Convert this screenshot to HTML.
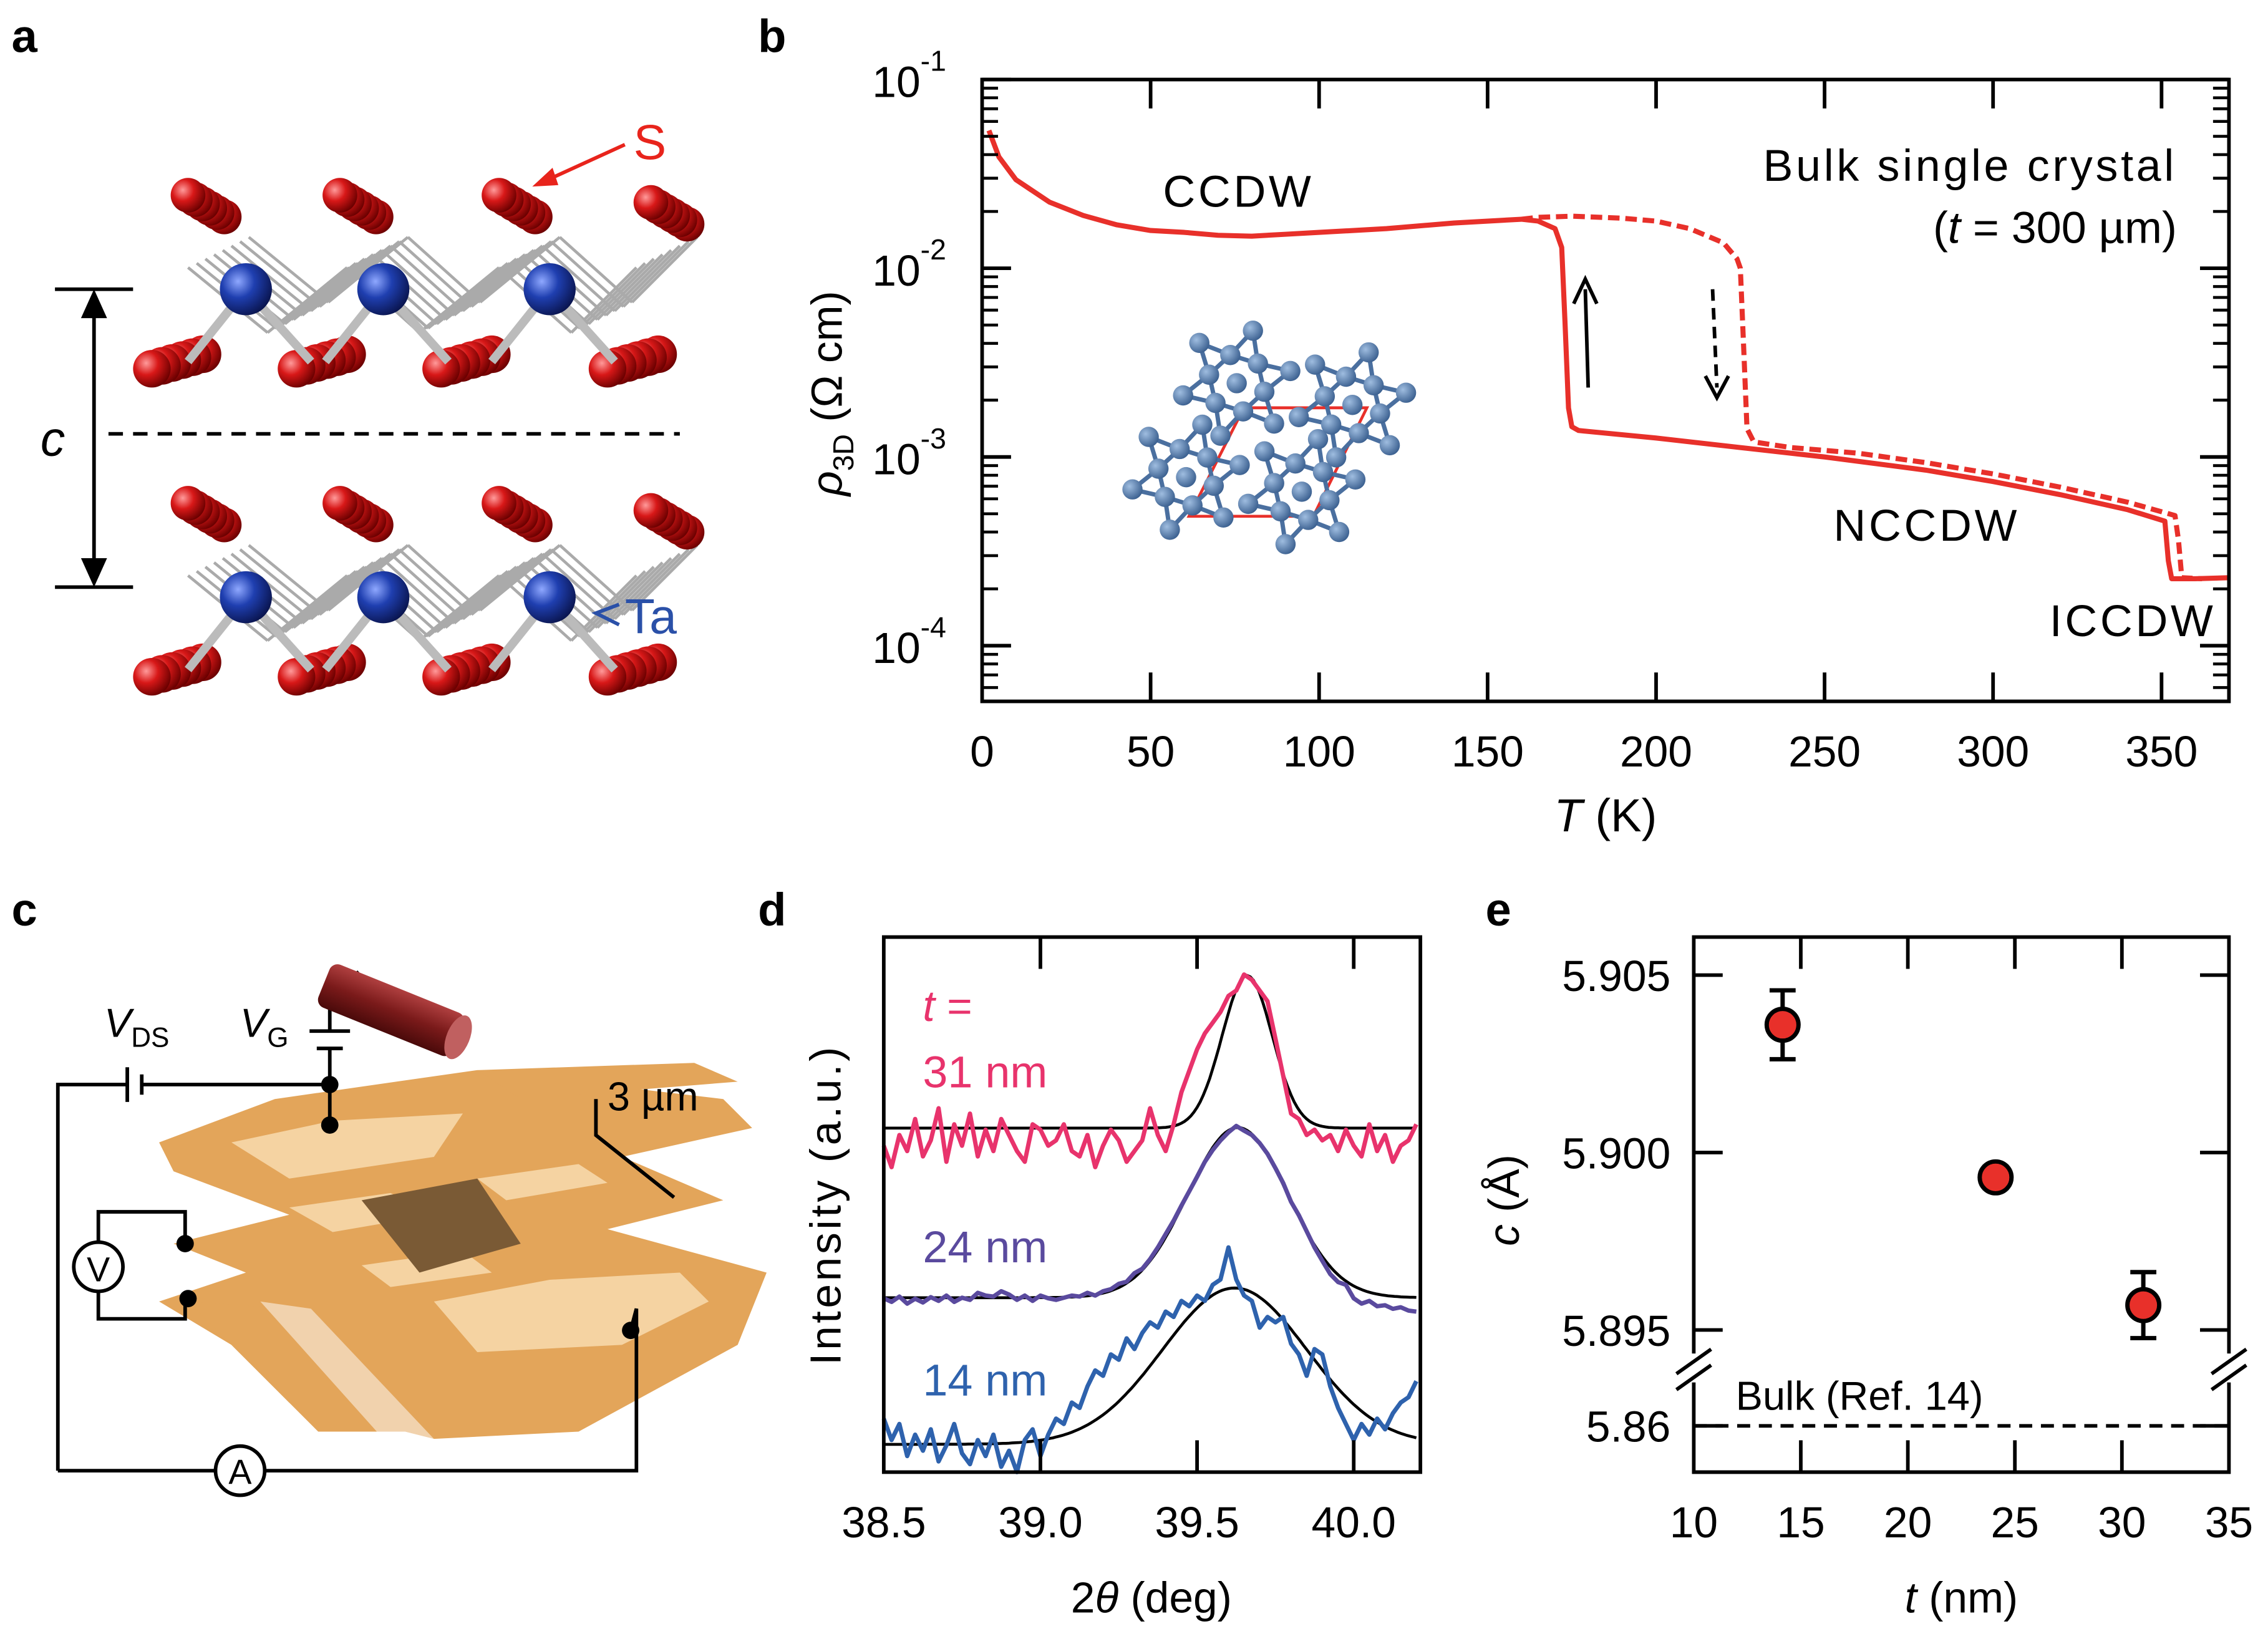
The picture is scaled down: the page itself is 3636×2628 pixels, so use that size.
<!DOCTYPE html>
<html><head><meta charset="utf-8"><style>
html,body{margin:0;padding:0;background:#fff;}
svg{display:block;}
text{font-family:"Liberation Sans",sans-serif;}
</style></head><body>
<svg id="fig" width="3636" height="2628" viewBox="0 0 1568 1133.4" preserveAspectRatio="none" xmlns="http://www.w3.org/2000/svg">
<defs>
<radialGradient id="gS" cx="0.35" cy="0.35" r="0.7"><stop offset="0" stop-color="#ff9a9a"/><stop offset="0.45" stop-color="#d81818"/><stop offset="1" stop-color="#6a0000"/></radialGradient>
<radialGradient id="gT" cx="0.35" cy="0.35" r="0.7"><stop offset="0" stop-color="#8fa8ff"/><stop offset="0.45" stop-color="#1f3fb0"/><stop offset="1" stop-color="#0a1550"/></radialGradient>
<radialGradient id="gB" cx="0.35" cy="0.35" r="0.7"><stop offset="0" stop-color="#9fbde0"/><stop offset="1" stop-color="#3a5f8f"/></radialGradient>
<linearGradient id="gCab" x1="0" y1="0" x2="0" y2="1"><stop offset="0" stop-color="#b04040"/><stop offset="0.5" stop-color="#7a1a1a"/><stop offset="1" stop-color="#4a0a0a"/></linearGradient>
</defs>

<g font-weight="bold" font-size="32">
<text x="8" y="36">a</text>
<text x="524" y="36">b</text>
<text x="8" y="640">c</text>
<text x="524" y="640">d</text>
<text x="1027" y="640">e</text>
</g>

<g id="panelA"></g>
<g>
<line x1="38" y1="200" x2="92" y2="200" stroke="#000" stroke-width="2.5"/>
<line x1="38" y1="406" x2="92" y2="406" stroke="#000" stroke-width="2.5"/>
<line x1="65" y1="215" x2="65" y2="391" stroke="#000" stroke-width="2.5"/>
<polygon points="65,200 56,220 74,220" fill="#000"/>
<polygon points="65,406 56,386 74,386" fill="#000"/>
<line x1="75" y1="300" x2="470" y2="300" stroke="#000" stroke-width="2.5" stroke-dasharray="10,7"/>
<text x="28" y="315" font-size="34" font-style="italic">c</text>
<text x="438" y="110" font-size="34" fill="#e8241c">S</text>
<line x1="432" y1="100" x2="375" y2="126" stroke="#e8241c" stroke-width="2.5"/>
<polygon points="368,129 382,116 386,128" fill="#e8241c"/>
<text x="432" y="438" font-size="34" fill="#2a50a8">Ta</text>
<polyline points="428,418 412,424 428,432" fill="none" stroke="#2a50a8" stroke-width="2.5"/>
</g>

<g id="panelB"></g>

<g>
<polygon points="110,790 190,760 330,740 500,760 520,780 430,800 500,830 420,850 530,880 510,930 400,990 300,995 200,970 160,930 110,900 170,880 120,860 200,840 120,810" fill="#e3a55a"/>
<polygon points="330,740 480,735 510,748 360,760" fill="#e3a55a"/>
<polygon points="160,790 230,775 320,770 300,800 200,815" fill="#f5d3a2"/>
<polygon points="200,835 270,825 300,840 230,852" fill="#f5d3a2"/>
<polygon points="330,815 400,805 420,818 350,830" fill="#f5d3a2"/>
<polygon points="250,875 320,865 340,880 270,890" fill="#f5d3a2"/>
<polygon points="300,900 380,885 470,880 490,900 430,930 330,935" fill="#f5d3a2"/>
<polygon points="250,830 330,815 360,860 290,880" fill="#7a5a35"/>
<polygon points="130,900 200,905 290,990 220,990" fill="#e3a55a"/>
<polygon points="180,900 215,905 300,995 265,995" fill="#fff" opacity="0.5"/>
<path d="M40,1017 L40,750 L88,750 M98,750 L228,750 L228,725 M228,713 L228,690 L248,672 M40,1017 L150,1017 M183,1017 L440,1017 L440,905 L436,920" fill="none" stroke="#000" stroke-width="2.5"/>
<line x1="88" y1="738" x2="88" y2="762" stroke="#000" stroke-width="2.5"/>
<line x1="98" y1="743" x2="98" y2="757" stroke="#000" stroke-width="2.5"/>
<line x1="214" y1="713" x2="242" y2="713" stroke="#000" stroke-width="2.5"/>
<line x1="219" y1="725" x2="237" y2="725" stroke="#000" stroke-width="2.5"/>
<line x1="228" y1="750" x2="228" y2="778" stroke="#000" stroke-width="2.5"/>
<path d="M68,860 L68,838 L128,838 L128,860 M68,892 L68,912 L128,912 L128,898" fill="none" stroke="#000" stroke-width="2.5"/>
<circle cx="68" cy="876" r="17" fill="#fff" stroke="#000" stroke-width="2.5"/>
<text x="68" y="886" font-size="24" text-anchor="middle">V</text>
<circle cx="166" cy="1017" r="17" fill="#fff" stroke="#000" stroke-width="2.5"/>
<text x="166" y="1026" font-size="24" text-anchor="middle">A</text>
<g fill="#000"><circle cx="228" cy="750" r="6"/><circle cx="228" cy="778" r="6"/><circle cx="128" cy="860" r="6"/><circle cx="130" cy="898" r="6"/><circle cx="436" cy="920" r="6"/></g>
<g transform="translate(230,665) rotate(22)">
<rect x="0" y="0" width="100" height="32" rx="6" fill="url(#gCab)"/>
<ellipse cx="100" cy="16" rx="8" ry="16" fill="#c06060"/>
</g>
<text x="72" y="717" font-size="28" font-style="italic">V<tspan font-size="19" font-style="normal" dy="7">DS</tspan></text>
<text x="166" y="717" font-size="28" font-style="italic">V<tspan font-size="19" font-style="normal" dy="7">G</tspan></text>
<text x="420" y="768" font-size="28">3 µm</text>
<polyline points="412,760 412,785 466,828" fill="none" stroke="#000" stroke-width="2.5"/>
</g>

<g id="panelD"></g>
<g id="panelE"></g>
</svg>
<script>
// ---------- Panel b data ----------
const solidT = [2,5,10,20,30,40,50,60,70,80,90,100,120,140,160,165,170,172,173,174,175,177,180,200,230,250,280,300,320,340,351,352,353,360,370];
const solidLogRho = [-1.27,-1.41,-1.53,-1.65,-1.72,-1.77,-1.80,-1.81,-1.825,-1.83,-1.82,-1.81,-1.79,-1.76,-1.74,-1.75,-1.79,-1.89,-2.29,-2.74,-2.84,-2.86,-2.865,-2.90,-2.96,-3.00,-3.07,-3.13,-3.20,-3.28,-3.34,-3.55,-3.645,-3.645,-3.64];
const dashedT = [160,165,175,190,200,210,220,224,225,226,227,229,240,260,280,300,320,340,354,355,356,362];
const dashedLogRho = [-1.74,-1.73,-1.724,-1.735,-1.75,-1.79,-1.865,-1.95,-2.0,-2.42,-2.85,-2.92,-2.95,-2.98,-3.03,-3.09,-3.16,-3.24,-3.31,-3.44,-3.64,-3.645];
const bXTicks = [0,50,100,150,200,250,300,350];
const bYDecades = [-1,-2,-3,-4];

// ---------- Panel d data ----------
const twoTheta0 = 38.5, twoThetaStep = 0.025;
const pink31 = [6.1,5.7,6.3,6.0,6.6,5.9,6.2,6.8,5.8,6.5,6.1,6.7,5.9,6.4,6.0,6.6,6.3,6.0,5.8,6.5,6.4,6.1,6.2,6.5,6.0,5.9,6.3,5.7,6.1,6.4,6.2,5.8,6.0,6.2,6.8,6.3,6.0,6.5,7.1,7.5,7.9,8.2,8.4,8.6,8.9,9.0,9.3,9.2,9.0,8.8,8.1,7.4,6.7,6.6,6.3,6.4,6.2,6.3,6.0,6.4,6.1,5.9,6.5,6.0,6.3,5.8,6.1,6.2,6.5];
const purple24 = [3.25,3.18,3.28,3.15,3.24,3.17,3.27,3.2,3.3,3.18,3.26,3.22,3.35,3.3,3.28,3.38,3.32,3.22,3.3,3.2,3.3,3.25,3.22,3.26,3.3,3.28,3.35,3.3,3.38,3.42,3.52,3.56,3.72,3.8,3.98,4.2,4.45,4.7,4.98,5.25,5.52,5.8,6.02,6.2,6.35,6.47,6.38,6.3,6.15,5.95,5.68,5.4,5.05,4.8,4.5,4.2,3.95,3.7,3.55,3.5,3.25,3.15,3.2,3.1,3.12,3.05,3.08,3.02,3.0];
const blue14 = [1.0,0.6,0.9,0.3,0.7,0.4,0.8,0.2,0.5,0.9,0.35,0.15,0.6,0.3,0.7,0.1,0.4,0.0,0.6,0.8,0.3,0.7,1.0,0.9,1.3,1.2,1.6,1.9,1.8,2.2,2.1,2.5,2.3,2.6,2.8,2.7,3.0,2.9,3.2,3.1,3.3,3.2,3.5,3.6,4.2,3.6,3.3,3.2,2.7,2.9,2.8,2.9,2.4,2.2,1.8,2.3,2.2,1.6,1.2,0.9,0.6,0.9,0.7,1.0,0.8,1.1,1.3,1.4,1.7];
const fitBase = [6.43,3.26,0.52];
const fitAmp = [2.85,3.18,2.92];
const fitCenter = [39.66,39.63,39.62];
const fitSigma = [0.08,0.16,0.23];
const dXTicks = [38.5,39.0,39.5,40.0];
const dXLabels = ["38.5","39.0","39.5","40.0"];

// ---------- Panel e data ----------
const thickness = [14.15,24.1,31.0];
const cValues = [5.9036,5.8993,5.8957];
const cErrors = [0.00097,0.0003,0.00093];
const bulkC = 5.86;
const eXTicks = [10,15,20,25,30,35];
const eYTicks = [5.905,5.900,5.895];
const eYLabels = ["5.905","5.900","5.895"];

const NS = "http://www.w3.org/2000/svg";
function mk(parent, tag, attrs){const e=document.createElementNS(NS,tag);for(const k in attrs)e.setAttribute(k,attrs[k]);parent.appendChild(e);return e;}
function txt(parent, x, y, s, size, anchor){const e=mk(parent,'text',{x:x,y:y,'font-size':size,'text-anchor':anchor||'middle'});e.textContent=s;return e;}
function tsp(parent, s, attrs){const t=mk(parent,'tspan',attrs||{});t.textContent=s;return t;}

// ===== Panel a =====
(function(){
  const g=document.getElementById('panelA');
  function layer(y0){
    for(let k=0;k<8;k++){
      const dx=k*6, dy=-k*3;
      [[130,y0-45,185,y0],[185,y0,240,y0-45],[240,y0-45,290,y0],[290,y0,345,y0-45],[345,y0-45,395,y0],[395,y0,440,y0-45]].forEach(s=>{
        mk(g,'line',{x1:s[0]+dx,y1:s[1]+dy+45,x2:s[2]+dx,y2:s[3]+dy+45,stroke:'#aaa','stroke-width':2});
      });
    }
    const sTop=[[130,y0-50],[235,y0-50],[345,y0-50],[450,y0-45]];
    const sBot=[[105,y0+70],[205,y0+70],[305,y0+70],[420,y0+70]];
    const ta=[[170,y0+15],[265,y0+15],[380,y0+15]];
    for(let k=5;k>=0;k--){
      sTop.forEach(p=>{mk(g,'circle',{cx:p[0]+k*5,cy:p[1]+k*3,r:12,fill:'url(#gS)'});});
      sBot.forEach(p=>{mk(g,'circle',{cx:p[0]+k*7,cy:p[1]-k*2,r:13,fill:'url(#gS)'});});
    }
    ta.forEach(p=>{
      mk(g,'line',{x1:p[0],y1:p[1],x2:p[0]-40,y2:p[1]+50,stroke:'#bbb','stroke-width':6});
      mk(g,'line',{x1:p[0],y1:p[1],x2:p[0]+45,y2:p[1]+50,stroke:'#bbb','stroke-width':6});
      mk(g,'circle',{cx:p[0],cy:p[1],r:18,fill:'url(#gT)'});
    });
  }
  layer(185);
  layer(398);
})();

// ===== Panel b =====
(function(){
  const g=document.getElementById('panelB');
  const L=679,R=1541,T=55,B=485;
  const xB=t=>L+t*(R-L)/370;
  const yB=v=>T+(-1-v)*130.5;
  function poly(xs,ys,dash,name){
    let d='';for(let i=0;i<xs.length;i++){d+=(i?'L':'M')+xB(xs[i]).toFixed(1)+','+yB(ys[i]).toFixed(1);}
    const p=mk(g,'path',{d:d,fill:'none',stroke:'#e8302a','stroke-width':3.5,'stroke-linejoin':'round'});
    if(dash)p.setAttribute('stroke-dasharray','8,4');
    
    
  }
  poly(dashedT,dashedLogRho,true,'warming-curve-dashed');
  poly(solidT,solidLogRho,false,'cooling-curve-solid');
  const box=mk(g,'rect',{x:L,y:T,width:R-L,height:B-T,fill:'none',stroke:'#000','stroke-width':2.5});
  
  
  bXTicks.forEach(t=>{
    const x=xB(t);
    if(t>0){mk(g,'line',{x1:x,y1:T,x2:x,y2:T+20,stroke:'#000','stroke-width':2.5});
    mk(g,'line',{x1:x,y1:B,x2:x,y2:B-20,stroke:'#000','stroke-width':2.5});}
    const e=txt(g,x,530,String(t),30);
    
    
  });
  bYDecades.forEach(dc=>{
    const y=yB(dc);
    mk(g,'line',{x1:L,y1:y,x2:L+20,y2:y,stroke:'#000','stroke-width':2.5});
    mk(g,'line',{x1:R,y1:y,x2:R-20,y2:y,stroke:'#000','stroke-width':2.5});
    const e=mk(g,'text',{x:603,y:y+12,'font-size':30});
    tsp(e,'10');
    tsp(e,String(dc),{'font-size':20,dy:-18});
    
    
  });
  for(let dc=-1;dc>=-4;dc--){
    for(let m=2;m<=9;m++){
      const v=dc-1+Math.log10(m);
      const y=yB(v);
      if(y>B-1||y<T+1)continue;
      mk(g,'line',{x1:L,y1:y,x2:L+11,y2:y,stroke:'#000','stroke-width':2});
      mk(g,'line',{x1:R,y1:y,x2:R-11,y2:y,stroke:'#000','stroke-width':2});
    }
  }
  const xt=mk(g,'text',{x:1110,y:575,'font-size':32,'text-anchor':'middle'});
  tsp(xt,'T',{'font-style':'italic'}); tsp(xt,' (K)');
  
  
  const yt=mk(g,'text',{x:0,y:0,'font-size':30,'text-anchor':'middle',transform:'translate(582,272) rotate(-90)'});
  tsp(yt,'ρ',{'font-style':'italic'}); tsp(yt,'3D',{'font-size':20,dy:8}); tsp(yt,' (Ω cm)',{dy:-8});
  
  
  [['CCDW',804,143,'start'],['NCCDW',1332,374,'middle'],['ICCDW',1532,440,'end'],['Bulk single crystal',1505,125,'end']].forEach(a=>{
    const e=mk(g,'text',{x:a[1],y:a[2],'font-size':31,'text-anchor':a[3],'letter-spacing':'2'});
    e.textContent=a[0];
    
    
  });
  const t2=mk(g,'text',{x:1505,y:168,'font-size':31,'text-anchor':'end'});
  tsp(t2,'('); tsp(t2,'t',{'font-style':'italic'}); tsp(t2,' = 300 µm)');
  
  
  mk(g,'line',{x1:1098,y1:268,x2:1096,y2:200,stroke:'#000','stroke-width':2.5});
  mk(g,'polyline',{points:'1088,210 1096,193 1104,210',fill:'none',stroke:'#000','stroke-width':2.5});
  mk(g,'line',{x1:1184,y1:200,x2:1187,y2:268,stroke:'#000','stroke-width':2.5,'stroke-dasharray':'8,5'});
  mk(g,'polyline',{points:'1179,260 1187,275 1195,260',fill:'none',stroke:'#000','stroke-width':2.5});
  const ins=mk(g,'g',{});
  
  
  mk(ins,'polygon',{points:'860,282 945,282 908,357 822,357',fill:'none',stroke:'#e8302a','stroke-width':2});
  const centers=[[855,265],[935,280],[820,330],[900,340]];
  centers.forEach(c=>{
    const pts=[];
    for(let k=0;k<6;k++){const a=Math.PI/3*k+0.3;pts.push([c[0]+20*Math.cos(a),c[1]+20*Math.sin(a)]);}
    for(let k=0;k<6;k++){const a=Math.PI/3*k+0.3+Math.PI/6;pts.push([c[0]+38*Math.cos(a),c[1]+38*Math.sin(a)]);}
    for(let k=0;k<6;k++){
      const p=pts[k],q=pts[(k+1)%6],o=pts[6+k];
      mk(ins,'line',{x1:p[0],y1:p[1],x2:q[0],y2:q[1],stroke:'#4a6f9f','stroke-width':3});
      mk(ins,'line',{x1:p[0],y1:p[1],x2:o[0],y2:o[1],stroke:'#4a6f9f','stroke-width':3});
      mk(ins,'line',{x1:q[0],y1:q[1],x2:o[0],y2:o[1],stroke:'#4a6f9f','stroke-width':3});
    }
    mk(ins,'circle',{cx:c[0],cy:c[1],r:7,fill:'url(#gB)'});
    pts.forEach(p=>mk(ins,'circle',{cx:p[0],cy:p[1],r:7,fill:'url(#gB)'}));
  });
})();

// ===== Panel d =====
(function(){
  const g=document.getElementById('panelD');
  const L=611,R=982,T=648,B=1018;
  const xD=v=>L+(v-38.5)*216.6;
  const yD=v=>B-v*37;
  const cols=['#e8336c','#5a4a9e','#2e62ad'];
  const series=[pink31,purple24,blue14];
  for(let s=0;s<3;s++){
    let d='';
    for(let i=0;i<=170;i++){const v=38.5+i*0.01;const I=fitBase[s]+fitAmp[s]*Math.exp(-Math.pow(v-fitCenter[s],2)/(2*fitSigma[s]*fitSigma[s]));d+=(i?'L':'M')+xD(v).toFixed(1)+','+yD(I).toFixed(1);}
    const p=mk(g,'path',{d:d,fill:'none',stroke:'#000','stroke-width':2});
    
    
  }
  const names=['trace-31nm','trace-24nm','trace-14nm'];
  for(let s=0;s<3;s++){
    let d='';
    series[s].forEach((I,i)=>{const v=twoTheta0+i*twoThetaStep;d+=(i?'L':'M')+xD(v).toFixed(1)+','+yD(I).toFixed(1);});
    const p=mk(g,'path',{d:d,fill:'none',stroke:cols[s],'stroke-width':3,'stroke-linejoin':'round'});
    
    
  }
  const box=mk(g,'rect',{x:L,y:T,width:R-L,height:B-T,fill:'none',stroke:'#000','stroke-width':2.5});
  
  
  dXTicks.forEach((v,i)=>{
    const x=xD(v);
    if(i>0){mk(g,'line',{x1:x,y1:T,x2:x,y2:T+22,stroke:'#000','stroke-width':2.5});
    mk(g,'line',{x1:x,y1:B,x2:x,y2:B-22,stroke:'#000','stroke-width':2.5});}
    const e=txt(g,x,1063,dXLabels[i],30);
    
    
  });
  const xt=mk(g,'text',{x:796,y:1115,'font-size':30,'text-anchor':'middle'});
  tsp(xt,'2'); tsp(xt,'θ',{'font-style':'italic'}); tsp(xt,' (deg)');
  
  
  const yt=mk(g,'text',{x:0,y:0,'font-size':30,'text-anchor':'middle','letter-spacing':'2',transform:'translate(581,833) rotate(-90)'});
  yt.textContent='Intensity (a.u.)';
  
  
  const l1=mk(g,'text',{x:638,y:706,'font-size':30,fill:cols[0]});
  tsp(l1,'t',{'font-style':'italic'}); tsp(l1,' =');
  
  
  [['31 nm',752,0],['24 nm',873,1],['14 nm',965,2]].forEach(a=>{
    const e=mk(g,'text',{x:638,y:a[1],'font-size':31,fill:cols[a[2]]});e.textContent=a[0];
    
    
  });
})();

// ===== Panel e =====
(function(){
  const g=document.getElementById('panelE');
  const L=1171,R=1541,T=648,B=1018;
  const xE=t=>L+(t-10)*14.8;
  const yE=c=>c>5.88?797+(5.900-c)/0.005*122.7:986-(c-5.86)*1000;
  const f=mk(g,'path',{d:`M${L},936 L${L},${T} L${R},${T} L${R},936 M${R},956 L${R},${B} L${L},${B} L${L},956`,fill:'none',stroke:'#000','stroke-width':2.5});
  
  
  [L,R].forEach(x=>{
    mk(g,'line',{x1:x-12,y1:950,x2:x+12,y2:933,stroke:'#000','stroke-width':2.5});
    mk(g,'line',{x1:x-12,y1:961,x2:x+12,y2:944,stroke:'#000','stroke-width':2.5});
  });
  eXTicks.forEach(t=>{
    const x=xE(t);
    if(t>10&&t<35){mk(g,'line',{x1:x,y1:T,x2:x,y2:T+22,stroke:'#000','stroke-width':2.5});
    mk(g,'line',{x1:x,y1:B,x2:x,y2:B-22,stroke:'#000','stroke-width':2.5});}
    const e=txt(g,x,1063,String(t),30);
    
    
  });
  eYTicks.concat([bulkC]).forEach((c,i)=>{
    const y=yE(c);
    mk(g,'line',{x1:L,y1:y,x2:L+20,y2:y,stroke:'#000','stroke-width':2.5});
    mk(g,'line',{x1:R,y1:y,x2:R-20,y2:y,stroke:'#000','stroke-width':2.5});
    const e=txt(g,1155,y+11,i<3?eYLabels[i]:'5.86',30,'end');
    
    
  });
  const bl=mk(g,'line',{x1:L,y1:yE(bulkC),x2:R,y2:yE(bulkC),stroke:'#000','stroke-width':2.5,'stroke-dasharray':'9,6'});
  
  
  const bt=mk(g,'text',{x:1200,y:975,'font-size':28});bt.textContent='Bulk (Ref. 14)';
  
  
  thickness.forEach((t,i)=>{
    const x=xE(t),y=yE(cValues[i]),y1=yE(cValues[i]+cErrors[i]),y2=yE(cValues[i]-cErrors[i]);
    const eb=mk(g,'path',{d:`M${x},${y1}L${x},${y2}M${x-9},${y1}L${x+9},${y1}M${x-9},${y2}L${x+9},${y2}`,stroke:'#000','stroke-width':3,fill:'none'});
    
    
    const c=mk(g,'circle',{cx:x,cy:y,r:11,fill:'#e8302a',stroke:'#000','stroke-width':3});
    
    
  });
  const xt=mk(g,'text',{x:1356,y:1115,'font-size':30,'text-anchor':'middle'});
  tsp(xt,'t',{'font-style':'italic'}); tsp(xt,' (nm)');
  
  
  const yt=mk(g,'text',{x:0,y:0,'font-size':30,'text-anchor':'middle',transform:'translate(1050,830) rotate(-90)'});
  tsp(yt,'c',{'font-style':'italic'}); tsp(yt,' (Å)');
  
  
})();
</script>
</body></html>
